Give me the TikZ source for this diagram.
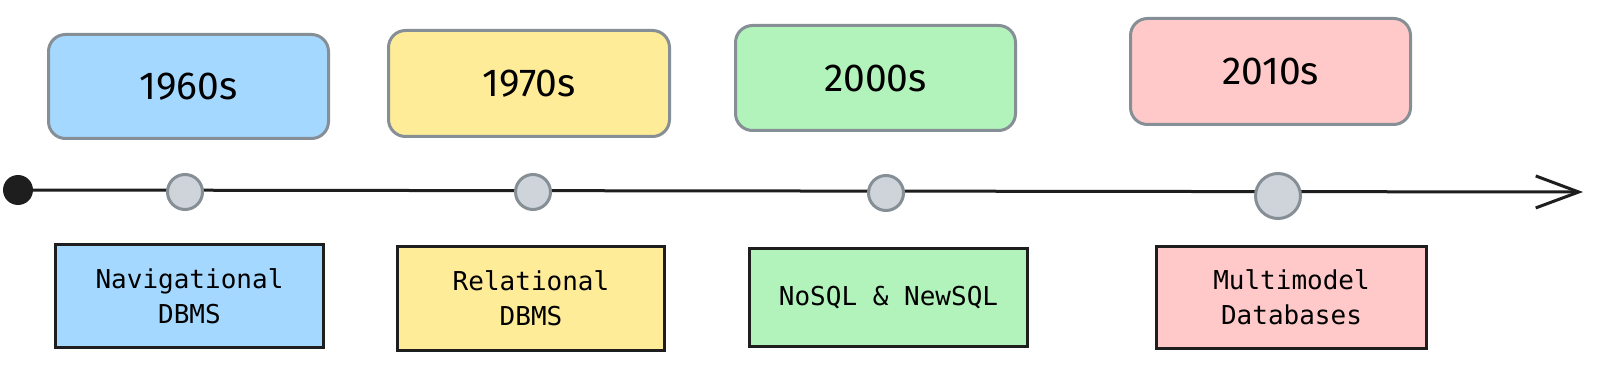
\documentclass[tikz,border=0pt]{standalone}
\usepackage{fontspec}
\setmainfont{Fira Sans}
\setmonofont{DejaVu Sans Mono}
\usetikzlibrary{arrows.meta}

\begin{document}
\begin{tikzpicture}[x=1pt,y=1pt,
  eraBox/.style={draw=edgeColor,line width=3pt,rounded corners=17pt,minimum width=280pt,minimum height=105pt,inner sep=0pt,font=\fontsize{39}{42}\selectfont},
  topicBox/.style={draw=inkColor,line width=3pt,minimum height=102pt,inner sep=0pt,align=center,font=\fontsize{26}{35}\selectfont\ttfamily},
  markDot/.style={circle,draw=edgeColor,fill=dotColor,line width=3pt,inner sep=0pt,minimum size=35pt}]
\definecolor{inkColor}{HTML}{1E1E1E}
\definecolor{edgeColor}{HTML}{868E96}
\definecolor{dotColor}{HTML}{CED4DA}
\definecolor{blueFill}{HTML}{A5D8FF}
\definecolor{yellowFill}{HTML}{FFEC99}
\definecolor{greenFill}{HTML}{B2F2BB}
\definecolor{pinkFill}{HTML}{FFC9C9}
\path[use as bounding box,fill=white] (0,0) rectangle (1600,370);

% time axis
\node[circle,fill=inkColor,inner sep=0pt,minimum size=30pt] (start) at (18,180) {};
\coordinate (tip) at (1583,178);
\draw[draw=inkColor,line width=3pt,-{Straight Barb[length=43pt,width=32pt]}] (start.center) -- (tip);

\node[markDot] (m1960) at (185,178) {};
\node[markDot] (m1970) at (533,178) {};
\node[markDot] (m2000) at (886,177) {};
\node[markDot,minimum size=45pt] (m2010) at (1278,174) {};

% eras
\node[eraBox,fill=blueFill,minimum width=280pt,minimum height=104pt] (e1960) at (188.5,283.5) {1960s};
\node[eraBox,fill=yellowFill,minimum width=281pt,minimum height=106pt] (e1970) at (529,286.5) {1970s};
\node[eraBox,fill=greenFill,minimum width=280pt,minimum height=105pt] (e2000) at (875.5,292) {2000s};
\node[eraBox,fill=pinkFill,minimum width=280pt,minimum height=106pt] (e2010) at (1270.5,298.5) {2010s};

% database kinds
\node[topicBox,fill=blueFill,minimum width=268pt,minimum height=103pt] (navigational) at (189.5,74) {Navigational\\DBMS};
\node[topicBox,fill=yellowFill,minimum width=267pt,minimum height=104pt] (relational) at (531,71.5) {Relational\\DBMS};
\node[topicBox,fill=greenFill,minimum width=278pt,minimum height=98pt] (nosql) at (888.5,72.5) {NoSQL \& NewSQL};
\node[topicBox,fill=pinkFill,minimum width=270pt,minimum height=102pt] (multimodel) at (1291.5,72.5) {Multimodel\\Databases};
\end{tikzpicture}
\end{document}
